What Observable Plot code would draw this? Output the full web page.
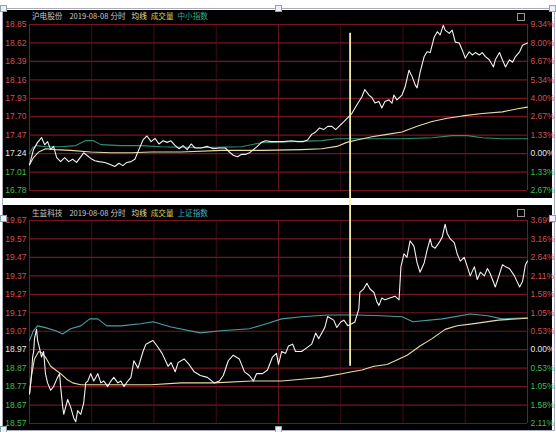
<!DOCTYPE html>
<html><head><meta charset="utf-8">
<script src="https://cdn.jsdelivr.net/npm/d3@7"></script>
<script src="https://cdn.jsdelivr.net/npm/@observablehq/plot@0.6"></script>
<style>
html,body{margin:0;padding:0;background:#fff}
body{width:556px;height:432px;position:relative;overflow:hidden;font-family:"Noto Sans CJK SC",sans-serif}
.panel{position:absolute;left:3px;background:#000}
.panel svg{overflow:visible;display:block}
.hdr{position:absolute;left:32px;font-size:7.6px;line-height:10px;white-space:nowrap;color:#c8c8c8;z-index:3}
.hdr span{margin-right:4px}
.icon{position:absolute;width:6px;height:6px;border:1px solid #999;z-index:3}
.handle{position:absolute;width:5px;height:5px;border:1px solid #8aa;background:#eef;z-index:5}
</style></head><body>
<div style="position:absolute;left:2px;top:8px;width:551px;height:421px;border:1px solid #aab"></div>
<div id="p1" class="panel" style="top:10px;width:549px;height:188px"></div>
<div id="p2" class="panel" style="top:205px;width:549px;height:225px"></div>
<div class="hdr" style="top:11px"><span style="margin-right:7px">沪电股份</span><span style="margin-right:2px">2019-08-08</span><span style="margin-right:6px">分时</span><span style="color:#e8e4b0">均线</span><span style="color:#d8d050">成交量</span><span style="color:#2fae8c">中小指数</span></div>
<div class="hdr" style="top:208px"><span style="margin-right:7px">生益科技</span><span style="margin-right:2px">2019-08-08</span><span style="margin-right:6px">分时</span><span style="color:#e8e4b0">均线</span><span style="color:#d8d050">成交量</span><span style="color:#3fb0c0">上证指数</span></div>
<div class="icon" style="left:517px;top:13px"></div>
<div class="icon" style="left:517px;top:209px"></div>
<div class="handle" style="left:0px;top:5px"></div>
<div class="handle" style="left:275px;top:5px"></div>
<div class="handle" style="left:549px;top:5px"></div>
<div class="handle" style="left:0px;top:215px"></div>
<div class="handle" style="left:549px;top:215px"></div>
<div class="handle" style="left:0px;top:426px"></div>
<div class="handle" style="left:275px;top:426px"></div>
<script>
// ---------- data ----------
const topPrevClose = 17.24;
const topTicks = [18.85,18.62,18.39,18.16,17.93,17.70,17.47,17.24,17.01,16.78];
const topTickLabels = ["18.85","18.62","18.39","18.16","17.93","17.70","17.47","17.24","17.01","16.78"];
const topPctLabels = ["9.34%","8.00%","6.67%","5.34%","4.00%","2.67%","1.33%","0.00%","1.33%","2.67%"];
// [minute, price]
const topPrice = [[0,17.10],[1.9,17.29],[3.9,17.38],[5.8,17.44],[7.3,17.35],[8.7,17.39],[10.2,17.29],[11.6,17.33],[13.1,17.19],[15,17.14],[16.9,17.19],[18.9,17.14],[20.8,17.17],[22.7,17.13],[24.7,17.20],[26.1,17.25],[27.6,17.22],[29.5,17.18],[31.5,17.15],[33.4,17.14],[36.3,17.13],[39.2,17.10],[41.1,17.08],[43.1,17.12],[45,17.09],[46.9,17.13],[48.9,17.14],[50.8,17.17],[52.7,17.29],[54.7,17.41],[56.6,17.46],[58.6,17.39],[60.5,17.43],[62.4,17.36],[64.4,17.40],[66.3,17.38],[68.2,17.40],[70.2,17.34],[72.1,17.30],[74,17.34],[76,17.29],[77.9,17.36],[79.8,17.31],[82.7,17.31],[85.7,17.33],[88.6,17.30],[91.5,17.31],[94.4,17.31],[96.3,17.26],[98.2,17.22],[100.2,17.20],[102.1,17.23],[104,17.23],[106,17.25],[107.9,17.29],[109.8,17.33],[111.8,17.38],[113.7,17.40],[116.6,17.39],[119.5,17.39],[122.4,17.39],[126.3,17.40],[129.2,17.39],[132.1,17.39],[134,17.41],[136,17.48],[137.9,17.51],[139.8,17.56],[141.8,17.54],[143.7,17.58],[145.7,17.58],[147.6,17.54],[149.5,17.59],[151.5,17.64],[153.4,17.69],[155.3,17.74],[157.8,17.85],[160.2,17.95],[161.6,18.04],[163.6,17.97],[165,17.94],[166.5,17.87],[168.4,17.89],[169.8,17.81],[171.3,17.89],[173.2,17.91],[174.7,17.87],[175.6,17.97],[177.1,17.91],[179.5,17.97],[181,18.07],[182.9,18.28],[184.4,18.20],[185.8,18.10],[186.8,18.06],[188.2,18.25],[190.2,18.45],[191.6,18.51],[193.1,18.50],[195,18.69],[196.5,18.76],[197.9,18.72],[199.4,18.84],[200.3,18.78],[202.3,18.74],[203.7,18.78],[205.2,18.63],[207.1,18.62],[208.6,18.53],[210,18.43],[211.9,18.51],[213.4,18.47],[214.9,18.50],[216.8,18.47],[218.2,18.50],[219.7,18.45],[221.6,18.41],[223.6,18.32],[224.5,18.41],[226.5,18.50],[227.9,18.41],[229.4,18.32],[231.3,18.41],[232.8,18.38],[234.2,18.45],[236.2,18.51],[237.6,18.59],[240,18.62]];
const topAvg = [[0,17.10],[1.9,17.19],[4.4,17.26],[7.7,17.30],[12.6,17.29],[19.8,17.28],[29.5,17.26],[39.2,17.25],[48.9,17.25],[58.6,17.26],[73.1,17.26],[92.4,17.28],[111.8,17.28],[131.1,17.29],[140.8,17.30],[148.1,17.33],[152.9,17.38],[157.8,17.41],[165,17.45],[172.3,17.48],[179.5,17.51],[186.8,17.58],[194,17.64],[201.3,17.68],[208.6,17.71],[218.2,17.74],[227.9,17.76],[235.2,17.80],[240,17.82]];
// [minute, index % change] 中小指数
const topIndex = [[0,0],[1.5,0.43],[3.4,0.58],[7.7,0.50],[15,0.50],[22.3,0.58],[27.1,0.94],[30.5,0.94],[34.4,0.65],[44,0.58],[53.7,0.58],[63.4,0.50],[82.7,0.43],[102.1,0.50],[111.8,0.79],[126.3,0.87],[140.8,0.94],[148.1,1.08],[160.2,1.08],[179.5,1.08],[194,1.15],[203.7,1.30],[211,1.30],[218.2,1.15],[227.9,1.08],[240,1.08]];

const botPrevClose = 18.97;
const botTicks = [19.67,19.57,19.47,19.37,19.27,19.17,19.07,18.97,18.87,18.77,18.67,18.57];
const botTickLabels = ["19.67","19.57","19.47","19.37","19.27","19.17","19.07","18.97","18.87","18.77","18.67","18.57"];
const botPctLabels = ["3.69%","3.16%","2.64%","2.11%","1.58%","1.05%","0.53%","0.00%","0.53%","1.05%","1.58%","2.11%"];
const botPrice = [[0,18.73],[1,18.84],[1.5,18.93],[2,18.96],[2.4,19.03],[3.4,19.08],[3.9,19.02],[4.8,18.98],[5.8,18.93],[6.8,18.96],[7.7,18.84],[8.7,18.79],[10.2,18.75],[11.6,18.77],[13.5,18.82],[14.5,18.84],[15,18.77],[16,18.66],[16.5,18.62],[18.4,18.70],[19.8,18.66],[21.3,18.60],[22.3,18.58],[23.2,18.64],[24.7,18.62],[26.1,18.68],[27.1,18.79],[28.1,18.80],[29.5,18.84],[31,18.80],[32.9,18.84],[34.4,18.79],[35.8,18.80],[37.7,18.77],[39.2,18.80],[40.6,18.82],[42.6,18.79],[44,18.80],[45.5,18.77],[47.4,18.80],[48.9,18.82],[50.3,18.91],[52.3,18.87],[54.7,18.96],[56.1,19.00],[59.5,19.02],[61.5,18.99],[63.9,18.95],[66.8,18.88],[68.2,18.90],[70.2,18.85],[71.6,18.90],[74.5,18.92],[76.9,18.89],[79.4,18.85],[82.3,18.83],[85.7,18.82],[89,18.79],[91.5,18.80],[93.4,18.83],[95.8,18.91],[98.2,18.94],[101.1,18.92],[103.6,18.85],[106,18.83],[107.9,18.80],[109.4,18.84],[112.3,18.84],[114.7,18.86],[117.1,18.93],[119,18.95],[120,18.89],[121.5,18.96],[123.4,18.95],[124.8,18.99],[126.8,19.00],[128.2,18.96],[131.1,18.96],[133.6,18.98],[136,19.00],[137.9,19.06],[139.4,19.03],[142.3,19.09],[143.7,19.15],[146.6,19.13],[148.1,19.09],[150,19.12],[151.5,19.13],[153.4,19.10],[155.3,19.11],[156.8,19.12],[158.7,19.19],[159.2,19.28],[161.1,19.30],[162.6,19.33],[164,19.30],[166,19.28],[167.4,19.23],[168.4,19.21],[169.8,19.25],[171.3,19.24],[173.7,19.25],[176.1,19.26],[178.1,19.24],[179,19.42],[180.5,19.49],[181.9,19.47],[183.4,19.56],[185.3,19.53],[186.8,19.44],[188.2,19.39],[190.2,19.44],[191.6,19.51],[193.1,19.57],[194,19.53],[195.5,19.52],[197.4,19.55],[198.9,19.58],[200.3,19.65],[201.3,19.60],[202.8,19.57],[204.7,19.55],[206.1,19.49],[207.6,19.45],[209.5,19.47],[211,19.42],[212.4,19.37],[214.4,19.42],[215.8,19.35],[217.3,19.39],[219.2,19.37],[220.7,19.41],[222.1,19.38],[224.5,19.31],[226.5,19.38],[227.9,19.43],[229.4,19.42],[231.3,19.41],[233.7,19.37],[236.2,19.31],[237.6,19.34],[239,19.43],[240,19.45]];
const botAvg = [[0,18.73],[1,18.83],[2.4,18.92],[4.4,18.96],[6.3,18.95],[8.2,18.92],[10.2,18.88],[12.6,18.86],[15,18.84],[17.9,18.81],[20.8,18.79],[24.7,18.78],[29.5,18.78],[39.2,18.78],[48.9,18.78],[58.6,18.78],[73.1,18.79],[89,18.79],[106.9,18.80],[121.5,18.80],[131.1,18.81],[140.8,18.82],[150.5,18.84],[155.3,18.85],[160.2,18.86],[166,18.88],[172.3,18.89],[178.1,18.92],[182,18.94],[188.2,18.99],[194,19.03],[200.3,19.08],[206.1,19.10],[213.4,19.11],[226,19.13],[240,19.14]];
// [minute, index % change] 上证指数
const botIndex = [[0,0.26],[1.9,0.54],[3.9,0.68],[7.7,0.63],[12.6,0.54],[16,0.45],[19.8,0.60],[24.7,0.68],[29,0.88],[32.9,0.88],[37.2,0.68],[44,0.68],[53.7,0.74],[59.5,0.80],[68.2,0.65],[82.3,0.48],[92.4,0.54],[106,0.60],[114.2,0.74],[121.5,0.88],[131.1,0.94],[143.7,0.99],[157.8,0.99],[169.8,0.97],[179.5,0.94],[184.8,0.80],[198.9,0.88],[212.4,1.02],[220.7,0.97],[227.9,0.88],[240,0.91]];

const markerMinute = 154.5;        // yellow annotation line
const gridMinutes = [30,60,90,150,180,210];
const midMinute = [120];

// ---------- drawing ----------
const RED = "#d2504f", GREEN = "#3fbf4a", WHITE = "#e6e6e6";
function labelColor(v, prev){ return Math.abs(v-prev)<1e-9 ? WHITE : (v>prev ? RED : GREEN); }

function panel(el, o){
  const lo = o.ticks[o.ticks.length-1], hi = o.ticks[0];
  const idx = o.index.map(([t,p]) => ({t, v: o.prev*(1+p/100)}));
  const chart = Plot.plot({
    width: 549, height: o.height,
    marginLeft: 26, marginRight: 25, marginTop: o.mt, marginBottom: o.mb,
    x: {domain:[0,240], axis:null},
    y: {domain:[lo,hi], axis:null},
    color: {type:"identity"},
    style: {background:"#000", overflow:"visible"},
    marks: [
      Plot.ruleX(gridMinutes, {stroke:"#3e0c12", strokeWidth:1}),
      Plot.ruleX(midMinute, {stroke:"#6a1420", strokeWidth:1}),
      Plot.ruleY(o.ticks, {stroke:"#741520", strokeWidth:1.2}),
      Plot.ruleX([0,240], {stroke:"#7a1824", strokeWidth:1}),
      Plot.line(idx, {x:"t", y:"v", stroke:o.indexColor, strokeWidth:1.1}),
      Plot.line(o.avg, {x:d=>d[0], y:d=>d[1], stroke:"#e9dca6", strokeWidth:1.1}),
      Plot.line(o.price, {x:d=>d[0], y:d=>d[1], stroke:"#f2f2f2", strokeWidth:1.1}),
      Plot.ruleX([markerMinute], {y1:o.mark1, y2:o.mark2, stroke:"#f4efa6", strokeWidth:1.8}),
      Plot.text(o.ticks, {y:d=>d, text:(d,i)=>o.tickLabels[i], frameAnchor:"left", textAnchor:"end", dx:-3,
        fill:d=>labelColor(d,o.prev), fontSize:8.5, fontFamily:"Liberation Sans, Arial, sans-serif"}),
      Plot.text(o.ticks, {y:d=>d, text:(d,i)=>o.pctLabels[i], frameAnchor:"right", textAnchor:"start", dx:3,
        fill:d=>labelColor(d,o.prev), fontSize:8.5, fontFamily:"Liberation Sans, Arial, sans-serif"})
    ]
  });
  el.appendChild(chart);
}

panel(document.getElementById("p1"), {
  height:188, mt:14, mb:8, prev:topPrevClose, ticks:topTicks, tickLabels:topTickLabels, pctLabels:topPctLabels,
  price:topPrice, avg:topAvg, index:topIndex, indexColor:"#2f8f70", mark1:18.74, mark2:16.58
});
panel(document.getElementById("p2"), {
  height:225, mt:15, mb:7, prev:botPrevClose, ticks:botTicks, tickLabels:botTickLabels, pctLabels:botPctLabels,
  price:botPrice, avg:botAvg, index:botIndex, indexColor:"#4a9ea0", mark1:19.76, mark2:18.88
});
</script>
</body></html>
